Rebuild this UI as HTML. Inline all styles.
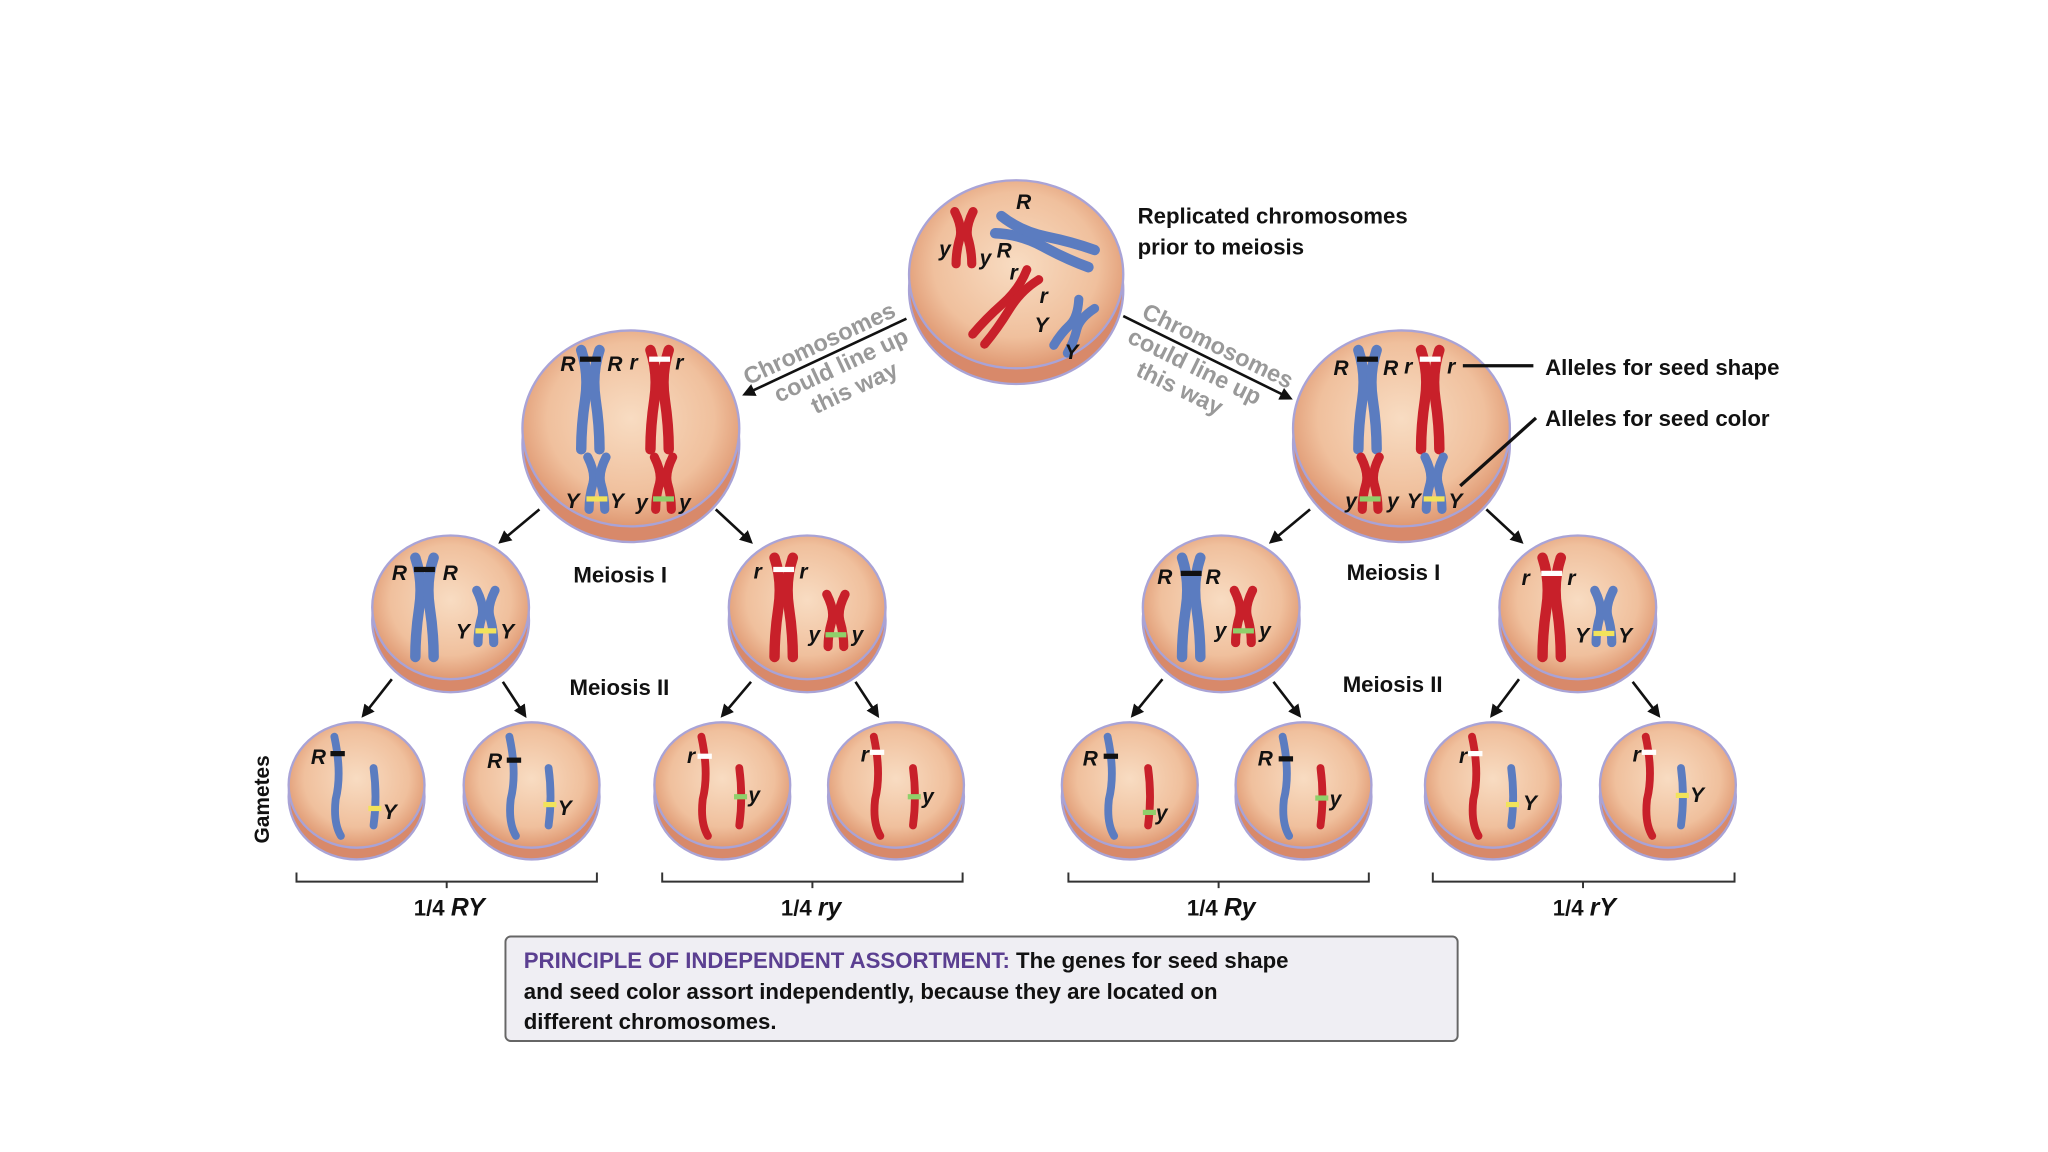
<!DOCTYPE html>
<html><head><meta charset="utf-8"><style>
html,body{margin:0;padding:0;background:#fff;}
svg{display:block;}
text{font-family:"Liberation Sans",sans-serif;font-weight:bold;}
</style></head><body>
<svg width="2048" height="1152" viewBox="0 0 1568 882" xmlns="http://www.w3.org/2000/svg">
<defs>
<radialGradient id="cg" cx="50%" cy="45%" r="55%">
<stop offset="0" stop-color="#f8dcc2"/><stop offset="0.7" stop-color="#f0c09d"/><stop offset="1" stop-color="#df9872"/>
</radialGradient>
<g id="bigX" fill="none" stroke="currentColor" stroke-width="8" stroke-linecap="round">
<path d="M-7 -38 Q-1 -20 -4 0 Q-7 20 -7 38"/><path d="M7 -38 Q1 -20 4 0 Q7 20 7 38"/></g>
<g id="smallX" fill="none" stroke="currentColor" stroke-width="7" stroke-linecap="round">
<path d="M-7 -20 Q-1 -8 -3 0 Q-6 10 -6 20"/><path d="M7 -20 Q1 -8 3 0 Q6 10 6 20"/></g>
<g id="chL" fill="none" stroke="currentColor" stroke-width="6" stroke-linecap="round"><path d="M-3 -38 Q3 -10 -2 10 Q-4 28 2 38"/></g>
<g id="chS" fill="none" stroke="currentColor" stroke-width="6" stroke-linecap="round"><path d="M-1 -22 Q2 0 -1 22"/></g>
<marker id="ah" markerWidth="10" markerHeight="10" refX="8" refY="5" orient="auto" markerUnits="userSpaceOnUse"><path d="M0 0 L10 5 L0 10 Z" fill="#111"/></marker>
</defs>

<g stroke="#a9a3d6" stroke-width="1.8">
<ellipse cx="778" cy="222" rx="82" ry="72" fill="#d8896a"/><ellipse cx="778" cy="210" rx="82" ry="72" fill="url(#cg)"/>
<ellipse cx="483" cy="340" rx="83" ry="75" fill="#d8896a"/><ellipse cx="483" cy="328" rx="83" ry="75" fill="url(#cg)"/>
<ellipse cx="1073" cy="340" rx="83" ry="75" fill="#d8896a"/><ellipse cx="1073" cy="328" rx="83" ry="75" fill="url(#cg)"/>
<ellipse cx="345" cy="475" rx="60" ry="55" fill="#d8896a"/><ellipse cx="345" cy="465" rx="60" ry="55" fill="url(#cg)"/>
<ellipse cx="618" cy="475" rx="60" ry="55" fill="#d8896a"/><ellipse cx="618" cy="465" rx="60" ry="55" fill="url(#cg)"/>
<ellipse cx="935" cy="475" rx="60" ry="55" fill="#d8896a"/><ellipse cx="935" cy="465" rx="60" ry="55" fill="url(#cg)"/>
<ellipse cx="1208" cy="475" rx="60" ry="55" fill="#d8896a"/><ellipse cx="1208" cy="465" rx="60" ry="55" fill="url(#cg)"/>
<ellipse cx="273" cy="610" rx="52" ry="48" fill="#d8896a"/><ellipse cx="273" cy="601" rx="52" ry="48" fill="url(#cg)"/>
<ellipse cx="407" cy="610" rx="52" ry="48" fill="#d8896a"/><ellipse cx="407" cy="601" rx="52" ry="48" fill="url(#cg)"/>
<ellipse cx="553" cy="610" rx="52" ry="48" fill="#d8896a"/><ellipse cx="553" cy="601" rx="52" ry="48" fill="url(#cg)"/>
<ellipse cx="686" cy="610" rx="52" ry="48" fill="#d8896a"/><ellipse cx="686" cy="601" rx="52" ry="48" fill="url(#cg)"/>
<ellipse cx="865" cy="610" rx="52" ry="48" fill="#d8896a"/><ellipse cx="865" cy="601" rx="52" ry="48" fill="url(#cg)"/>
<ellipse cx="998" cy="610" rx="52" ry="48" fill="#d8896a"/><ellipse cx="998" cy="601" rx="52" ry="48" fill="url(#cg)"/>
<ellipse cx="1143" cy="610" rx="52" ry="48" fill="#d8896a"/><ellipse cx="1143" cy="601" rx="52" ry="48" fill="url(#cg)"/>
<ellipse cx="1277" cy="610" rx="52" ry="48" fill="#d8896a"/><ellipse cx="1277" cy="601" rx="52" ry="48" fill="url(#cg)"/>
</g>

<use href="#smallX" x="738" y="182" color="#c8202a"/>
<use href="#bigX" transform="translate(800,185) rotate(-70)" color="#5b7cc0"/>
<use href="#bigX" transform="translate(770,235) rotate(40) scale(0.85)" color="#c8202a"/>
<use href="#smallX" transform="translate(822,250) rotate(30)" color="#5b7cc0"/>
<g font-size="16" font-style="italic" fill="#111">
<text x="778" y="160">R</text><text x="719" y="196">y</text><text x="750" y="203">y</text><text x="763" y="197">R</text>
<text x="773" y="214">r</text><text x="796" y="232">r</text><text x="792" y="254">Y</text><text x="815" y="275">Y</text></g>

<use href="#bigX" x="452" y="306" color="#5b7cc0"/><use href="#bigX" x="505" y="306" color="#c8202a"/>
<use href="#smallX" x="457" y="370" color="#5b7cc0"/><use href="#smallX" x="508" y="370" color="#c8202a"/>
<rect x="444" y="273" width="16" height="4" fill="#111"/><rect x="449" y="380" width="16" height="4" fill="#f2e35a"/>
<rect x="497" y="273" width="16" height="4" fill="#fff"/><rect x="500" y="380" width="16" height="4" fill="#8fd06a"/>
<use href="#bigX" x="1047" y="306" color="#5b7cc0"/><use href="#bigX" x="1095" y="306" color="#c8202a"/>
<use href="#smallX" x="1049" y="370" color="#c8202a"/><use href="#smallX" x="1098" y="370" color="#5b7cc0"/>
<rect x="1039" y="273" width="16" height="4" fill="#111"/><rect x="1087" y="273" width="16" height="4" fill="#fff"/>
<rect x="1041" y="380" width="16" height="4" fill="#8fd06a"/><rect x="1090" y="380" width="16" height="4" fill="#f2e35a"/>

<g font-size="16" font-style="italic" fill="#111">
<text x="429" y="284">R</text><text x="465" y="284">R</text><text x="482" y="283">r</text><text x="517" y="283">r</text>
<text x="433" y="389">Y</text><text x="467" y="389">Y</text><text x="487" y="390">y</text><text x="520" y="390">y</text>
<text x="1021" y="287">R</text><text x="1059" y="287">R</text><text x="1075" y="286">r</text><text x="1108" y="286">r</text>
<text x="1030" y="389">y</text><text x="1062" y="389">y</text><text x="1077" y="389">Y</text><text x="1109" y="389">Y</text>
</g>

<use href="#bigX" x="325" y="465" color="#5b7cc0"/><use href="#smallX" x="372" y="472" color="#5b7cc0"/>
<rect x="317" y="434" width="16" height="4" fill="#111"/><rect x="364" y="481" width="16" height="4" fill="#f2e35a"/>
<use href="#bigX" x="600" y="465" color="#c8202a"/><use href="#smallX" x="640" y="475" color="#c8202a"/>
<rect x="592" y="434" width="16" height="4" fill="#fff"/><rect x="632" y="484" width="16" height="4" fill="#8fd06a"/>
<use href="#bigX" x="912" y="465" color="#5b7cc0"/><use href="#smallX" x="952" y="472" color="#c8202a"/>
<rect x="904" y="437" width="16" height="4" fill="#111"/><rect x="944" y="481" width="16" height="4" fill="#8fd06a"/>
<use href="#bigX" x="1188" y="465" color="#c8202a"/><use href="#smallX" x="1228" y="472" color="#5b7cc0"/>
<rect x="1180" y="437" width="16" height="4" fill="#fff"/><rect x="1220" y="483" width="16" height="4" fill="#f2e35a"/>
<g font-size="16" font-style="italic" fill="#111">
<text x="300" y="444">R</text><text x="339" y="444">R</text><text x="349" y="489">Y</text><text x="383" y="489">Y</text>
<text x="577" y="443">r</text><text x="612" y="443">r</text><text x="619" y="491">y</text><text x="652" y="491">y</text>
<text x="886" y="447">R</text><text x="923" y="447">R</text><text x="930" y="488">y</text><text x="964" y="488">y</text>
<text x="1165" y="448">r</text><text x="1200" y="448">r</text><text x="1206" y="492">Y</text><text x="1239" y="492">Y</text>
</g>

<use href="#chL" x="259" y="602" color="#5b7cc0"/><use href="#chS" x="287" y="610" color="#5b7cc0"/>
<use href="#chL" x="393" y="602" color="#5b7cc0"/><use href="#chS" x="421" y="610" color="#5b7cc0"/>
<use href="#chL" x="540" y="602" color="#c8202a"/><use href="#chS" x="567" y="610" color="#c8202a"/>
<use href="#chL" x="672" y="602" color="#c8202a"/><use href="#chS" x="700" y="610" color="#c8202a"/>
<use href="#chL" x="851" y="602" color="#5b7cc0"/><use href="#chS" x="880" y="610" color="#c8202a"/>
<use href="#chL" x="985" y="602" color="#5b7cc0"/><use href="#chS" x="1012" y="610" color="#c8202a"/>
<use href="#chL" x="1130" y="602" color="#c8202a"/><use href="#chS" x="1158" y="610" color="#5b7cc0"/>
<use href="#chL" x="1263" y="602" color="#c8202a"/><use href="#chS" x="1288" y="610" color="#5b7cc0"/>
<rect x="253" y="575" width="11" height="4" fill="#111"/><rect x="282" y="617" width="10" height="4" fill="#f2e35a"/>
<rect x="388" y="580" width="11" height="4" fill="#111"/><rect x="416" y="614" width="10" height="4" fill="#f2e35a"/>
<rect x="534" y="577" width="11" height="4" fill="#fff"/><rect x="562" y="608" width="10" height="4" fill="#8fd06a"/>
<rect x="666" y="574" width="11" height="4" fill="#fff"/><rect x="695" y="608" width="10" height="4" fill="#8fd06a"/>
<rect x="845" y="577" width="11" height="4" fill="#111"/><rect x="875" y="620" width="10" height="4" fill="#8fd06a"/>
<rect x="979" y="579" width="11" height="4" fill="#111"/><rect x="1007" y="609" width="10" height="4" fill="#8fd06a"/>
<rect x="1124" y="575" width="11" height="4" fill="#fff"/><rect x="1153" y="614" width="10" height="4" fill="#f2e35a"/>
<rect x="1257" y="574" width="11" height="4" fill="#fff"/><rect x="1283" y="607" width="10" height="4" fill="#f2e35a"/>
<g font-size="16" font-style="italic" fill="#111">
<text x="238" y="585">R</text><text x="293" y="627">Y</text>
<text x="373" y="588">R</text><text x="427" y="624">Y</text>
<text x="526" y="584">r</text><text x="573" y="614">y</text>
<text x="659" y="583">r</text><text x="706" y="615">y</text>
<text x="829" y="586">R</text><text x="885" y="628">y</text>
<text x="963" y="586">R</text><text x="1018" y="617">y</text>
<text x="1117" y="584">r</text><text x="1166" y="620">Y</text>
<text x="1250" y="583">r</text><text x="1294" y="614">Y</text>
</g>

<g stroke="#111" stroke-width="2" marker-end="url(#ah)">
<line x1="694" y1="244" x2="570" y2="302"/><line x1="860" y1="242" x2="988" y2="305"/>
<line x1="413" y1="390" x2="383" y2="415"/><line x1="548" y1="390" x2="575" y2="415"/>
<line x1="1003" y1="390" x2="973" y2="415"/><line x1="1138" y1="390" x2="1165" y2="415"/>
<line x1="300" y1="520" x2="278" y2="548"/><line x1="385" y1="522" x2="402" y2="548"/>
<line x1="575" y1="522" x2="553" y2="548"/><line x1="655" y1="522" x2="672" y2="548"/>
<line x1="890" y1="520" x2="867" y2="548"/><line x1="975" y1="522" x2="995" y2="548"/>
<line x1="1163" y1="520" x2="1142" y2="548"/><line x1="1250" y1="522" x2="1270" y2="548"/>
</g>
<g stroke="#111" stroke-width="2.5"><line x1="1120" y1="280" x2="1174" y2="280"/><line x1="1118" y1="372" x2="1176" y2="320"/></g>

<g font-size="18" fill="#999" text-anchor="middle">
<g transform="translate(632,273) rotate(-25)"><text x="0" y="-5">Chromosomes</text><text x="8" y="17">could line up</text><text x="10" y="37">this way</text></g>
<g transform="translate(924,273) rotate(26)"><text x="4" y="-5">Chromosomes</text><text x="-5" y="17">could line up</text><text x="-8" y="37">this way</text></g>
</g>

<g font-size="17" fill="#111">
<text x="871" y="171">Replicated chromosomes</text><text x="871" y="195">prior to meiosis</text>
<text x="1183" y="287">Alleles for seed shape</text><text x="1183" y="326">Alleles for seed color</text>
<text x="439" y="446">Meiosis I</text><text x="1031" y="444">Meiosis I</text>
<text x="436" y="532">Meiosis II</text><text x="1028" y="530">Meiosis II</text>
</g>
<text transform="translate(206,612) rotate(-90)" font-size="16" fill="#111" text-anchor="middle">Gametes</text>

<g fill="none" stroke="#333" stroke-width="1.5">
<path d="M227 668V675H457V668M342 675V680"/><path d="M507 668V675H737V668M622 675V680"/>
<path d="M818 668V675H1048V668M933 675V680"/><path d="M1097 668V675H1328V668M1212 675V680"/>
</g>
<g font-size="19" fill="#111" text-anchor="middle">
<text x="344" y="701"><tspan font-size="17">1/4 </tspan><tspan font-style="italic">RY</tspan></text>
<text x="621" y="701"><tspan font-size="17">1/4 </tspan><tspan font-style="italic">ry</tspan></text>
<text x="935" y="701"><tspan font-size="17">1/4 </tspan><tspan font-style="italic">Ry</tspan></text>
<text x="1213" y="701"><tspan font-size="17">1/4 </tspan><tspan font-style="italic">rY</tspan></text>
</g>

<rect x="387" y="717" width="729" height="80" rx="4" fill="#efeef3" stroke="#666" stroke-width="1.5"/>
<g font-size="17" fill="#111">
<text x="401" y="741"><tspan fill="#5b3f91">PRINCIPLE OF INDEPENDENT ASSORTMENT:</tspan> The genes for seed shape</text>
<text x="401" y="765">and seed color assort independently, because they are located on</text>
<text x="401" y="788">different chromosomes.</text>
</g>
</svg>
</body></html>
